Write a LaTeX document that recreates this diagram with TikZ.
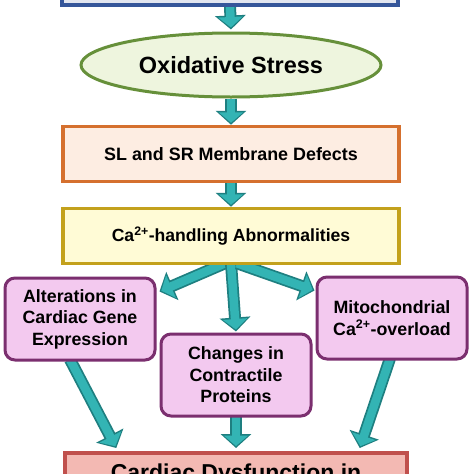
\documentclass[tikz,border=0pt]{standalone}
\usepackage{fontspec}
\setmainfont{Liberation Sans}
\usetikzlibrary{arrows.meta,calc,shapes.geometric,backgrounds}
\definecolor{topfill}{HTML}{E2E6F0}
\definecolor{topline}{HTML}{35569A}
\definecolor{ellfill}{HTML}{EEF5DE}
\definecolor{ellline}{HTML}{66903A}
\definecolor{orfill}{HTML}{FDEDE2}
\definecolor{orline}{HTML}{D5702E}
\definecolor{yefill}{HTML}{FFFBD6}
\definecolor{yeline}{HTML}{C3A11C}
\definecolor{pkfill}{HTML}{F3C9EF}
\definecolor{pkline}{HTML}{7B2F6F}
\definecolor{btfill}{HTML}{F3B9B3}
\definecolor{btline}{HTML}{C0504D}
\definecolor{arrin}{HTML}{33B4B4}
\definecolor{arrout}{HTML}{1E7F80}
\tikzset{
  every node/.style={font=\bfseries, text=black},
  flatbox/.style={rectangle, line width=3.5pt, align=center, inner sep=0pt},
  pinkbox/.style={rectangle, rounded corners=10pt, line width=3pt, draw=pkline, fill=pkfill,
    align=center, minimum width=150pt, minimum height=82pt, inner sep=0pt,
    font=\fontsize{17.8}{21.5}\selectfont\bfseries},
  arrowdark/.style={draw=arrout, line width=12pt, -{Triangle[length=14pt,width=30pt,fill=arrout]}},
  arrowlight/.style={draw=arrin, line width=8.5pt, shorten >=2pt, -{Triangle[length=10.5pt,width=24pt,fill=arrin]}},
}
\newcommand\tealarrow[2]{%
  \draw[arrowdark] #1 -- #2;
  \draw[arrowlight] #1 -- #2;}
\begin{document}
\begin{tikzpicture}[x=1pt,y=-1pt]
\useasboundingbox (0,0) rectangle (474,474);
\clip (0,0) rectangle (474,474);

\node[flatbox, draw=topline, fill=topfill, minimum width=336pt, minimum height=50pt] (top) at (230,-20) {};
\node[ellipse, draw=ellline, fill=ellfill, line width=3pt, minimum width=300pt, minimum height=64pt,
      font=\fontsize{23.5}{27}\selectfont\bfseries] (ox) at (231,65) {Oxidative Stress};
\node[flatbox, draw=orline, fill=orfill, minimum width=336pt, minimum height=55pt,
      font=\fontsize{17.9}{21}\selectfont\bfseries] (sl) at (231,154) {SL and SR Membrane Defects};
\node[flatbox, draw=yeline, fill=yefill, minimum width=336pt, minimum height=55pt,
      font=\fontsize{17.6}{21}\selectfont\bfseries] (ca) at (231,236) {Ca\textsuperscript{2+}-handling Abnormalities};
\node[pinkbox] (gene) at (80,319) {Alterations in\\Cardiac Gene\\Expression};
\node[pinkbox] (contr) at (236,375) {Changes in\\Contractile\\Proteins};
\node[pinkbox] (mito) at (392,318) {Mitochondrial\\Ca\textsuperscript{2+}-overload};
\node[flatbox, draw=btline, fill=btfill, anchor=north, minimum width=342pt, inner ysep=11pt,
      text depth=30pt, font=\fontsize{23}{27}\selectfont\bfseries] (dys) at (236,451) {Cardiac Dysfunction in};

\begin{scope}[on background layer]
  \fill[white] (0,0) rectangle (474,474);
  \tealarrow{(top.south)}{($(ox.north)+(0,-2)$)}
  \tealarrow{(ox.south)}{(sl.north)}
  \tealarrow{(sl.south)}{(ca.north)}
  \tealarrow{($(ca.south)+(-6,-2)$)}{($(gene.north east)+(3,15)$)}
  \tealarrow{($(ca.south)+(0,-2)$)}{($(contr.north)+(0,-1)$)}
  \tealarrow{($(ca.south)+(6,-2)$)}{($(mito.north west)+(-1,15)$)}
  \tealarrow{($(gene.south)+(-10,-2)$)}{($(dys.north west)+(53,-3)$)}
  \tealarrow{($(contr.south)+(0,-2)$)}{($(dys.north)+(0,-3)$)}
  \tealarrow{($(mito.south)+(-2,-2)$)}{($(dys.north east)+(-49,-3)$)}
\end{scope}
\end{tikzpicture}
\end{document}
